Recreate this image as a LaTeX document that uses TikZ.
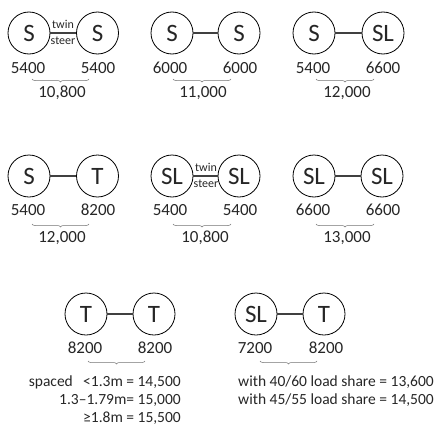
\documentclass[tikz,border=0pt]{standalone}
\usepackage{fontspec}
\setmainfont{Carlito}
\usetikzlibrary{decorations.pathreplacing}
\begin{document}
\begin{tikzpicture}[x=1pt,y=-1pt,
  ax/.style={circle, draw=black, line width=0.8pt, minimum size=42pt, inner sep=0pt,
    font=\fontsize{25}{25}\selectfont, text=black!85},
  lnk/.style={line width=1.1pt, draw=black!75},
  num/.style={font=\fontsize{17}{17}\selectfont, text=black!85, inner sep=0pt},
  tot/.style={font=\fontsize{17}{17}\selectfont, text=black!85, inner sep=0pt},
  small/.style={font=\fontsize{12}{12}\selectfont, text=black!85, inner sep=0pt},
  txt/.style={font=\fontsize{15.5}{15.5}\selectfont, text=black!85, inner sep=0pt},
  brc/.style={decorate, decoration={brace, mirror, amplitude=3pt}, draw=black!55, line width=0.5pt}]
\useasboundingbox (0,0) rectangle (438,436);

% ---------- group 1
\node[ax] (a1) at (29,33) {S};
\node[ax] (b1) at (97.5,33) {S};
\draw[lnk] (a1) -- (b1);
\node[small] (tw1) at (63,24) {twin};
\node[small] (st1) at (63,41) {steer};
\node[num] (na1) at (28,68) {5400};
\node[num] (nb1) at (98,68) {5400};
\coordinate (l1) at (32,79); \coordinate (r1) at (89,79);
\draw[brc] (l1) -- (r1);
\node[tot] (t1) at (62,93) {10,800};

% ---------- group 2
\node[ax] (a2) at (172,33) {S};
\node[ax] (b2) at (239,33) {S};
\draw[lnk] (a2) -- (b2);
\node[num] (na2) at (170,68) {6000};
\node[num] (nb2) at (240,68) {6000};
\coordinate (l2) at (173,79); \coordinate (r2) at (231,79);
\draw[brc] (l2) -- (r2);
\node[tot] (t2) at (203,93) {11,000};

% ---------- group 3
\node[ax] (a3) at (314,33) {S};
\node[ax] (b3) at (383,33) {SL};
\draw[lnk] (a3) -- (b3);
\node[num] (na3) at (313,68) {5400};
\node[num] (nb3) at (383,68) {6600};
\coordinate (l3) at (316,79); \coordinate (r3) at (374,79);
\draw[brc] (l3) -- (r3);
\node[tot] (t3) at (347,93) {12,000};

% ---------- group 4
\node[ax] (a4) at (29,176) {S};
\node[ax] (b4) at (97.5,176) {T};
\draw[lnk] (a4) -- (b4);
\node[num] (na4) at (28,210) {5400};
\node[num] (nb4) at (98,210) {8200};
\coordinate (l4) at (32,224); \coordinate (r4) at (89,224);
\draw[brc] (l4) -- (r4);
\node[tot] (t4) at (62,238) {12,000};

% ---------- group 5
\node[ax] (a5) at (172,176) {SL};
\node[ax] (b5) at (239,176) {SL};
\draw[lnk] (a5) -- (b5);
\node[small] (tw5) at (206,167) {twin};
\node[small] (st5) at (206,184) {steer};
\node[num] (na5) at (170,210) {5400};
\node[num] (nb5) at (240,210) {5400};
\coordinate (l5) at (173,224); \coordinate (r5) at (231,224);
\draw[brc] (l5) -- (r5);
\node[tot] (t5) at (205,238) {10,800};

% ---------- group 6
\node[ax] (a6) at (314,176) {SL};
\node[ax] (b6) at (382,176) {SL};
\draw[lnk] (a6) -- (b6);
\node[num] (na6) at (313,210) {6600};
\node[num] (nb6) at (383,210) {6600};
\coordinate (l6) at (316,224); \coordinate (r6) at (374,224);
\draw[brc] (l6) -- (r6);
\node[tot] (t6) at (347,238) {13,000};

% ---------- group 7
\node[ax] (a7) at (86,314) {T};
\node[ax] (b7) at (154,314) {T};
\draw[lnk] (a7) -- (b7);
\node[num] (na7) at (85,348) {8200};
\node[num] (nb7) at (155,348) {8200};
\coordinate (l7) at (88,361); \coordinate (r7) at (145,361);
\draw[brc] (l7) -- (r7);
\node[txt, anchor=east] (s1) at (181,382) {spaced\enspace\,<1.3m = 14,500};
\node[txt, anchor=east] (s2) at (181,400) {1.3–1.79m= 15,000};
\node[txt, anchor=east] (s3) at (181,418) {≥1.8m = 15,500};

% ---------- group 8
\node[ax] (a8) at (256,314) {SL};
\node[ax] (b8) at (324,314) {T};
\draw[lnk] (a8) -- (b8);
\node[num] (na8) at (255,348) {7200};
\node[num] (nb8) at (326,348) {8200};
\coordinate (l8) at (260,361); \coordinate (r8) at (317,361);
\draw[brc] (l8) -- (r8);
\node[txt, anchor=west] (w1) at (238,382) {with 40/60 load share = 13,600};
\node[txt, anchor=west] (w2) at (238,400) {with 45/55 load share = 14,500};
\end{tikzpicture}
\end{document}
